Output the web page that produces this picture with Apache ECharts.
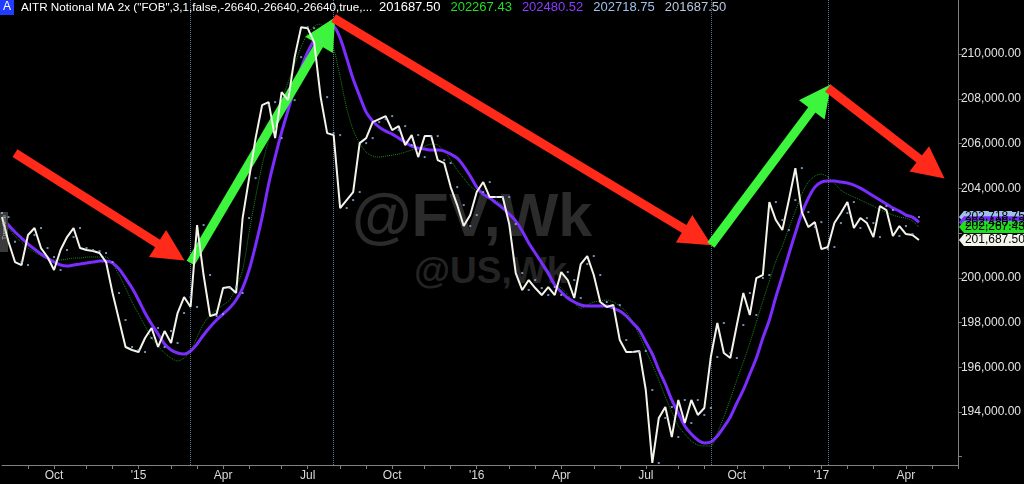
<!DOCTYPE html>
<html><head><meta charset="utf-8">
<script src="https://cdn.jsdelivr.net/npm/echarts@6/dist/echarts.min.js"></script>
<style>html,body{margin:0;padding:0;background:#000;}
#wrap{position:relative;width:1024px;height:484px;}
#c{position:absolute;left:0;top:0;width:1024px;height:484px;}
.wm{position:absolute;font-family:'Liberation Sans',Arial,sans-serif;font-weight:bold;white-space:nowrap;}
</style>
</head><body><div id="wrap">
<div class="wm" style="left:352px;top:180px;font-size:61px;color:#2b2b2b;">@FV,Wk</div>
<div class="wm" style="left:414px;top:250px;font-size:37px;color:#232323;">@US,Wk</div>
<div id="c"></div></div>
<script>
// ---- data ----
const startDate = [2014, 7, 8];      // first weekly bar (Fri 8 Aug 2014)
const weekCount = 148;               // categories on the axis (incl. empty right margin)
const monthNames = ['Jan','Feb','Mar','Apr','May','Jun','Jul','Aug','Sep','Oct','Nov','Dec'];

const closeVals = [202715,201612,200704,200570,201911,202224,201330,200928,200347,201241,
201822,202224,201330,201241,201196,201107,200704,199319,198112,196906,
196772,196682,197308,197755,196906,197621,197085,198425,199140,198696,
202358,200124,198291,198380,199542,199587,199319,202671,204458,206246,
207720,207855,206246,208302,207944,209866,211206,211162,210536,208078,
206469,206380,203118,203475,203833,206022,206246,206961,207095,207229,
206603,206782,205933,206380,205397,206335,206335,205263,205129,204056,
203252,202313,202805,203833,204280,203609,203609,203609,202400,200212,
199453,199900,199542,199230,199587,199230,200257,199900,199096,200614,
200972,200124,198917,198696,198783,197219,196682,196682,196727,194984,
191721,193732,194224,192883,194537,193509,194537,193867,194180,196459,
197979,196638,196414,197889,199319,198336,199989,200124,203386,202581,
202134,203475,204905,202937,202268,202489,201283,201374,202447,202894,
203386,202224,202670,202447,201821,203207,203028,201866,202313,201955,
201911,201687.5];

const openVals = [202900,202715,201612,200704,200570,201911,202224,201330,200928,200347,
201241,201822,202224,201330,201241,201196,201107,200704,199319,198112,
196906,196772,196682,197308,197755,196906,197621,197085,198425,199140,
198696,202358,200124,198291,198380,199542,199587,199319,202671,204458,
206246,207720,207855,206246,208302,207944,209866,211206,211162,210536,
208078,206469,206380,203118,203475,203833,206022,206246,206961,207095,
207229,206603,206782,205933,206380,205397,206335,206335,205263,205129,
204056,203252,202313,202805,203833,204280,203609,203609,203609,202400,
200212,199453,199900,199542,199230,199587,199230,200257,199900,199096,
200614,200972,200124,198917,198696,198783,197219,196682,196682,196727,
194984,191721,193732,194224,192883,194537,193509,194537,193867,194180,
196459,197979,196638,196414,197889,199319,198336,199989,200124,203386,
202581,202134,203475,204905,202937,202268,202489,201283,201374,202447,
202894,203386,202224,202670,202447,201821,203207,203028,201866,202313,
201955,202718.75];

const slowMA = [202715,202358,202045,201776,201508,201285,201062,200883,200705,200571,
200526,200571,200615,200660,200705,200749,200749,200660,200392,199989,
199542,199006,198425,197933,197486,197039,196772,196638,196593,196727,
197039,197442,197799,198112,198380,198648,199006,199542,200347,201464,
202715,204190,205397,206514,207497,208480,209374,210090,210625,211072,
211296,211251,210714,209821,208883,208123,207408,207005,206737,206558,
206424,206245,206067,205888,205799,205754,205710,205710,205665,205531,
205352,204995,204548,204056,203743,203564,203341,203117,202849,202536,
202089,201553,201107,200660,200213,199677,199364,199095,198917,198783,
198738,198738,198738,198738,198648,198514,198291,197978,197665,197129,
196593,195878,195252,194537,193956,193375,193017,192749,192615,192660,
192928,193330,193777,194403,194984,195699,196414,197307,198112,199140,
200079,201062,202000,202894,203564,204056,204280,204325,204325,204280,
204235,204146,204011,203833,203654,203475,203296,203117,202983,202805,
202715,202480.52];

const fastMA = [202670,202223,201866,201598,201329,201152,200973,200839,200794,200794,
200839,200883,200883,200928,200928,200928,200928,200615,200124,199542,
198917,198380,197844,197308,196950,196638,196414,196280,196414,196727,
197352,197933,198336,198559,198783,199006,199587,200347,202045,203609,
205039,206156,207139,207944,208749,209553,210313,210894,211251,211340,
210983,210268,208972,207586,206603,206022,205620,205442,205397,205442,
205486,205531,205620,205710,205799,205888,205978,205933,205665,205263,
204816,204458,204101,203877,203698,203564,203430,203252,202849,202492,
202045,201598,201107,200571,200079,199721,199542,199230,198872,198648,
198783,198917,198961,199006,198917,198738,198470,198023,197442,196772,
196101,195431,194671,193999,193375,193017,192704,192526,192481,192481,
193062,193777,194582,195431,196235,197084,198023,198961,199855,200749,
201419,202223,202983,203743,204280,204548,204638,204504,204235,203922,
203743,203609,203475,203341,203207,203028,202939,202805,202715,202670,
202536,202267.43];

const yTickValues  = [192000,194000,196000,198000,200000,202000,204000,206000,208000,210000];
const yLabelValues = [194000,196000,198000,200000,204000,206000,208000,210000];
const signalIdx = [29, 51, 109, 127];          // vertical dotted signal lines (week index)
// hand-drawn arrows: [startIdx, startVal, endIdx, endVal, color]
const arrows = [
  [2, 205576, 26, 201152, '#ff2a1a'],
  [29, 200660, 50, 211028, '#3cf53c'],
  [51, 211609, 107, 201822, '#ff2a1a'],
  [109, 201464, 126, 208078, '#3cf53c'],
  [127, 208480, 143, 204878, '#ff2a1a']
];
// price tags on the right axis
const tagValues = [202718.75, 202480.52, 202267.43, 201687.50];
const tagColors = ['#9fc1ec', '#7a2cff', '#22dd22', '#f4f4ec'];
const headerTitle = 'AITR Notional MA 2x ("FOB",3,1,false,-26640,-26640,-26640,true,...';
const headerVals = ['201687.50','202267.43','202480.52','202718.75','201687.50'];

// ---- build ----
const dates = [];
const d0 = Date.UTC(startDate[0], startDate[1], startDate[2]);
for (let i = 0; i < weekCount; i++) dates.push(new Date(d0 + i * 7 * 864e5).toISOString().slice(0, 10));
const dOf = v => new Date(v + 'T00:00:00Z');
const fmt2 = v => Number(v).toLocaleString('en-US', {minimumFractionDigits: 2, maximumFractionDigits: 2});
const FONT = 'Liberation Sans, Arial, sans-serif';

const chart = echarts.init(document.getElementById('c'), null, {renderer: 'canvas'});
const nulls = dates.map(() => null);

const option = {
  backgroundColor: 'transparent',
  animation: false,
  grid: {left: 2, right: 66, top: 0, bottom: 19, containLabel: false},
  xAxis: {
    type: 'category', data: dates, boundaryGap: false,
    axisLine: {lineStyle: {color: '#808080'}},
    axisTick: {length: 4, lineStyle: {color: '#808080'},
      interval: (i, v) => dOf(v).getUTCDate() <= 7},
    axisLabel: {color: '#d8d8d8', fontSize: 12, fontFamily: FONT, margin: 5, hideOverlap: false,
      interval: (i, v) => { const d = dOf(v); return d.getUTCDate() <= 7 && d.getUTCMonth() % 3 === 0; },
      formatter: v => { const d = dOf(v); const m = d.getUTCMonth();
        return m === 0 ? "'" + String(d.getUTCFullYear()).slice(2) : monthNames[m]; }},
    splitLine: {show: false}
  },
  yAxis: {
    type: 'value', position: 'right', min: 191630, max: 212420, scale: true,
    axisLine: {show: true, lineStyle: {color: '#808080'}},
    axisTick: {show: true, length: 4, customValues: yTickValues, lineStyle: {color: '#808080'}},
    axisLabel: {customValues: yLabelValues, formatter: fmt2, color: '#e4e4e4', fontSize: 12, fontFamily: FONT, margin: 3},
    splitLine: {show: false}
  },
  graphic: [
    {type: 'rect', left: 0, top: 0, z: 100, shape: {width: 14, height: 15}, style: {fill: '#1f3cff'}},
    {type: 'text', left: 3, top: 1, z: 101, style: {text: 'A', fill: '#fff', font: '12px ' + FONT}},
    {type: 'text', left: 21, top: 1, z: 101, style: {
      text: '{w|' + headerTitle + '}  {n|' + headerVals[0] + '}   {g|' + headerVals[1] + '}   {p|' + headerVals[2] + '}   {b|' + headerVals[3] + '}   {s|' + headerVals[4] + '}',
      font: '12px ' + FONT,
      rich: {w: {fill: '#ffffff', font: '11.7px ' + FONT}, n: {fill: '#ffffff', font: '13px ' + FONT},
             g: {fill: '#22dd22', font: '13px ' + FONT},
             p: {fill: '#8a3cff', font: '13px ' + FONT}, b: {fill: '#9fc1ec', font: '13px ' + FONT},
             s: {fill: '#b8c8e0', font: '13px ' + FONT}}}},
    {type: 'rect', left: 0, top: 212, z: 5, shape: {width: 8, height: 40}, style: {fill: '#3a3a3a'}},
    {type: 'text', left: 1, top: 215, z: 6, rotation: Math.PI / 2, style: {text: 'Trendline', fill: '#bbbbbb', font: '6px ' + FONT}}
  ],
  series: [
    {name: 'fast', type: 'line', data: fastMA, symbol: 'none', smooth: 0.3, z: 3,
      lineStyle: {color: '#1a8a1a', width: 1, type: 'dotted'},
      markLine: {silent: true, symbol: 'none', label: {show: false},
        lineStyle: {color: '#5c7594', width: 1, type: 'dotted'},
        data: signalIdx.map(i => ({xAxis: dates[i]}))}},
    {name: 'slow', type: 'line', data: slowMA, symbol: 'none', smooth: 0.3, z: 4,
      lineStyle: {color: '#7b2cff', width: 3}},
    {name: 'close', type: 'line', data: closeVals, symbol: 'none', z: 5,
      lineStyle: {color: '#f4f4ec', width: 2}},
    {name: 'open', type: 'scatter', data: openVals, symbol: 'rect', symbolSize: 2, z: 6,
      itemStyle: {color: '#8db4e2'}},
    {name: 'arrows', type: 'line', data: nulls, z: 8, symbol: 'none',
      markLine: {silent: true, symbol: ['none', 'triangle'], symbolSize: 30, label: {show: false},
        lineStyle: {width: 9, type: 'solid', opacity: 1},
        data: arrows.map(a => [
          {coord: [dates[a[0]], a[1]], symbol: 'none', lineStyle: {color: a[4]}, itemStyle: {color: a[4]}},
          {coord: [dates[a[2]], a[3]], symbol: 'triangle', symbolSize: 32, lineStyle: {color: a[4]}, itemStyle: {color: a[4]}}])},
      markPoint: {silent: true, symbol: 'path://M0,6L5,0H66V12H5Z', symbolSize: [66, 12], symbolOffset: [34, 0],
        data: tagValues.map((v, k) => ({coord: [dates[weekCount - 1], v],
          itemStyle: {color: tagColors[k]},
          label: {show: true, position: 'inside', offset: [3, 0], formatter: fmt2(v), color: '#000', fontSize: 12, fontFamily: FONT}}))}}
  ]
};
chart.setOption(option);
</script>
</body></html>
